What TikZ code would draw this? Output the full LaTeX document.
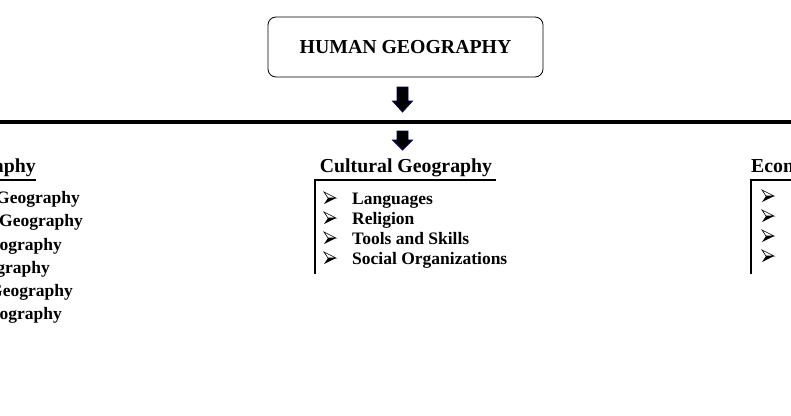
\documentclass[tikz,border=0pt]{standalone}
\usepackage{fontspec}
\setmainfont{Liberation Serif}
\usetikzlibrary{positioning}

\begin{document}
\begin{tikzpicture}[
    x=1pt, y=-1pt,
    font=\bfseries,
    % --- 樣式定義 ---
    % 頂部圓角方塊
    main box/.style={
        draw=black,
        line width=0.8pt,
        rounded corners=8pt,
        minimum width=275pt,
        minimum height=60pt,
        align=center,
        font=\fontsize{19.8}{22}\selectfont\bfseries
    },
    % 分類標題
    branch title/.style={
        inner sep=0pt,
        font=\fontsize{19.8}{22}\selectfont\bfseries
    },
    % 條目文字
    item text/.style={
        inner sep=0pt,
        anchor=base west,
        font=\fontsize{17.5}{20}\selectfont\bfseries
    },
    % 左側被裁切的條目
    cut text/.style={
        item text,
        anchor=base east
    },
    % 條目前的立體箭頭符號
    bullet mark/.pic={
        \draw[line width=0.6pt, line join=miter] (-6,-6) -- (6,0) -- (-2,0) -- cycle;
        \fill (-2,0) -- (6,0) -- (-6,6) -- cycle;
    },
    % 框線
    frame line/.style={line width=2pt},
    % 粗箭頭
    block arrow/.style={fill=black, draw=blue!40!black, line width=0.8pt, line join=miter}
]

    \useasboundingbox (0,0) rectangle (791,415);
    \clip (0,0) rectangle (791,415);

    % ====== 頂部:Human Geography ======
    \node[main box] (human) at (405.5,47) {HUMAN GEOGRAPHY};

    % 粗箭頭 1
    \coordinate (arrow one) at (402.5,87);
    \draw[block arrow] (arrow one) ++(-5.5,0) -- ++(0,14) -- ++(-4.5,0) -- (402.5,112)
        -- (412.5,101) -- ++(-4.5,0) -- ++(0,-14) -- cycle;

    % 水平粗線
    \coordinate (bar left) at (0,122);
    \coordinate (bar right) at (791,122);
    \draw[line width=4pt] (bar left) -- (bar right);

    % 粗箭頭 2
    \coordinate (arrow two) at (402.5,131);
    \draw[block arrow] (arrow two) ++(-5.5,0) -- ++(0,9) -- ++(-4.5,0) -- (402.5,150)
        -- (412.5,140) -- ++(-4.5,0) -- ++(0,-9) -- cycle;

    % ====== 中間:Cultural Geography ======
    \node[branch title, anchor=base] (cultural) at (406,172) {Cultural Geography};
    \coordinate (cultural corner) at (315,180);
    \draw[frame line] (496,180) -- (cultural corner) -- (315,274);

    \foreach \name/\txt [count=\i] in {lang/Languages, relig/Religion,
                                       tools/Tools and Skills, social/Social Organizations} {
        \pic (mark \name) at (330,{178+20*\i}) {bullet mark};
        \node[item text] (item \name) at (352,{184+20*\i}) {\txt};
    }

    % ====== 左側(被裁切) ======
    \node[branch title, anchor=base east] (left title) at (36,172) {aphy};
    \draw[frame line, line width=2.5pt] (0,180) -- (left title.east |- 0,180);

    \node[cut text] (left a) at (80,203) {Geography};
    \node[cut text] (left b) at (83,226) {Geography};
    \node[cut text] (left c) at (62,250) {ography};
    \node[cut text] (left d) at (50,273) {graphy};
    \node[cut text] (left e) at (73,296) {Geography};
    \node[cut text] (left f) at (62,319) {ography};

    % ====== 右側(被裁切) ======
    \node[branch title, anchor=base west] (right title) at (751,172) {Econ};
    \coordinate (right corner) at (751,180);
    \draw[frame line] (791,180) -- (right corner) -- (751,274);

    \foreach \i in {1,...,4} {
        \pic (right mark \i) at (768,{176+20*\i}) {bullet mark};
    }

\end{tikzpicture}
\end{document}
